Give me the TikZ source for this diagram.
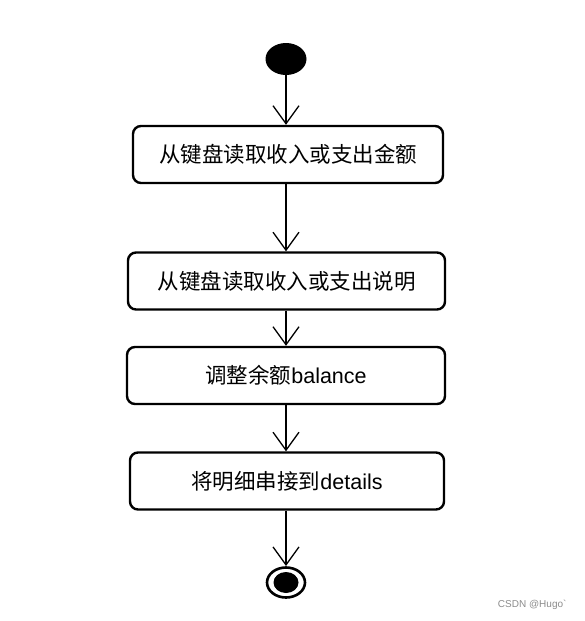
\documentclass[tikz,border=0pt]{standalone}
\usepackage{fontspec}
\newfontfamily\cjk{Noto Sans CJK SC}
\newfontfamily\latin{Liberation Sans}
\usetikzlibrary{arrows.meta}

\begin{document}
\begin{tikzpicture}[x=1pt, y=-1pt,
		actbox/.style = {draw, line width = 2.4pt, rounded corners = 8pt, fill = white,
			minimum height = 57pt, font = \cjk\fontsize{21.5}{24}\selectfont},
		flow/.style = {line width = 1.3pt, -{Straight Barb[length=18pt, width=26pt, line width=1.3pt]}}]
		%canvas
		\useasboundingbox [fill = white] (0,0) rectangle (584,621);
		
		%initial and final state
		\fill (286,59) ellipse [x radius = 20.5, y radius = 16];
		\coordinate (start) at (286,75);
		
		\draw [line width = 2.6pt] (286,582.5) ellipse [x radius = 19, y radius = 15];
		\fill (286,582.5) ellipse [x radius = 12.5, y radius = 10.5];
		\coordinate (stop) at (286,566);
		
		%activities
		\node [actbox, minimum width = 310pt] (amount) at (288,154.5) {从键盘读取收入或支出金额};
		\node [actbox, minimum width = 317pt] (note) at (286.5,281) {从键盘读取收入或支出说明};
		\node [actbox, minimum width = 318pt] (balance) at (286,375.5) {调整余额{\latin balance}};
		\node [actbox, minimum width = 314pt] (details) at (287,481) {将明细串接到{\latin details}};
		
		%transitions
		\draw [flow] (start) -- (start |- amount.north);
		\draw [flow] (amount.south -| start) -- (start |- note.north);
		\draw [flow] (note.south -| start) -- (start |- balance.north);
		\draw [flow] (balance.south -| start) -- (start |- details.north);
		\draw [flow] (details.south -| start) -- (stop);
		
		%watermark
		\node [text = black!45, font = \latin\fontsize{10}{12}\selectfont, anchor = east] (mark) at (570,605) {CSDN @Hugo`};
	\end{tikzpicture}
\end{document}
